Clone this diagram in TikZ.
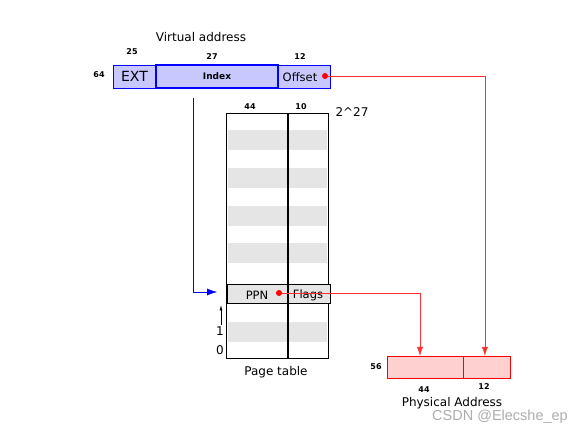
\documentclass[tikz,border=0pt]{standalone}
\usepackage{fontspec}
\setmainfont{DejaVu Sans}
\newfontfamily\markfont{Liberation Sans}
\usetikzlibrary{arrows.meta, positioning, calc}
\definecolor{vafill}{HTML}{C8C8FF}
\definecolor{pafill}{HTML}{FFD0D0}
\definecolor{rowgray}{HTML}{E5E5E5}
\definecolor{linkred}{HTML}{FF3030}

\begin{document}
\begin{tikzpicture}[x=1pt, y=-1pt,
  field/.style={draw=blue, fill=vafill, minimum height=23pt, inner sep=0pt},
  pafield/.style={draw=red, fill=pafill, minimum height=22pt, inner sep=0pt},
  bits/.style={font=\fontsize{8}{9}\selectfont\bfseries, inner sep=0pt},
  label/.style={font=\fontsize{12}{13}\selectfont, inner sep=0pt},
  entrytext/.style={font=\fontsize{11.5}{12}\selectfont, inner sep=0pt},
  reddot/.style={circle, fill=red, inner sep=0pt, minimum size=6pt},
  link/.style={linkred, -{Latex[length=9pt,width=6pt]}}]
\useasboundingbox (0,0) rectangle (587,434);

% Virtual address
\node[label] (va title) at (201,37) {Virtual address};
\node[field, minimum width=43pt] (ext) at (134.5,76.5) {\fontsize{14}{15}\selectfont EXT};
\node[field, minimum width=122pt, line width=1.6pt] (index) at (217,76.5) {\fontsize{9}{10}\selectfont\bfseries Index};
\node[field, minimum width=52pt] (offset) at (304,76.5) {};
\node[entrytext] (offset text) at (300,77) {Offset};
\node[reddot] (off dot) at (325,76) {};
\node[bits] (va width) at (99,75) {64};
\node[bits] (ext bits) at (132,52) {25};
\node[bits] (index bits) at (212,57) {27};
\node[bits] (off bits) at (300,57) {12};

% Page table
\foreach \y in {130,168,206,243,322}
  \fill[rowgray] (228,\y) rectangle (327,\y+20);
\node[draw, minimum width=102pt, minimum height=245pt, inner sep=0pt] (table) at (277,235.5) {};
\node[draw, fill=rowgray, minimum width=103pt, minimum height=19pt, inner sep=0pt] (entry) at (278.5,293.5) {};
\draw[line width=1.5pt] (table.north -| 288,0) -- (table.south -| 288,0);
\node[bits] (ppn bits) at (250,107) {44};
\node[bits] (flag bits) at (301,107) {10};
\node[label] (rows) at (352,112) {2\^{}27};
\node[entrytext] (ppn) at (257,295) {PPN};
\node[entrytext] (flags) at (308,295) {Flags};
\node[reddot] (ppn dot) at (279,293) {};
\node[label] (one) at (220,331) {1};
\node[label] (zero) at (220,350) {0};
\draw[-{Latex[length=5pt,width=3pt]}] (one.north) ++(1,-1) -- ++(0,-20);
\node[label] (pt title) at (276,372) {Page table};

% Physical address
\node[pafield, minimum width=76pt] (pa ppn) at (425,367) {};
\node[pafield, minimum width=47pt, right=0pt of pa ppn] (pa off) {};
\node[bits] (pa width) at (376,367) {56};
\node[bits] (pa ppn bits) at (424,390) {44};
\node[bits] (pa off bits) at (484,387) {12};
\node[label] (pa title) at (452,403) {Physical Address};

% connectors
\coordinate (idx out) at (193,98);
\coordinate (entry in) at (217,292);
\draw[blue, -{Latex[length=10pt,width=7pt]}] (idx out) |- (entry in);
\draw[link] (off dot) -| ([xshift=-2pt]pa off.north);
\draw[link] (ppn dot) -| ([xshift=-5pt]pa ppn.north);

\node[text=black!32, font=\markfont\fontsize{14.5}{15}\selectfont, inner sep=0pt] (mark) at (500,417) {CSDN @Elecshe\_ep};
\end{tikzpicture}
\end{document}
